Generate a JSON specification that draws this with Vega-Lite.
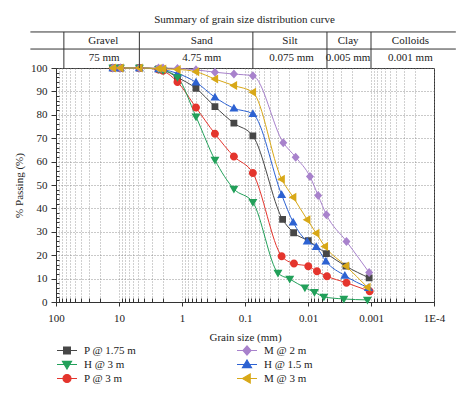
{
  "$schema": "https://vega.github.io/schema/vega-lite/v6.json",
  "width": 378,
  "height": 234,
  "autosize": {"type": "none"},
  "padding": {"left": 56, "top": 68, "right": 40, "bottom": 95},
  "resolve": {"axis": {"x": "independent", "y": "independent"}},
  "config": {
    "view": {"stroke": "#333", "strokeWidth": 1},
    "font": "Liberation Serif",
    "axis": {"domainColor": "#333", "tickColor": "#333", "labelFont": "Liberation Serif", "labelFontSize": 11, "labelColor": "#222", "titleFont": "Liberation Serif", "titleFontSize": 11, "titleFontWeight": "normal", "titleColor": "#222"}
  },
  "datasets": {
    "curves": [
      {"s": "P @ 1.75 m", "d": 12.5, "p": 100}, {"s": "P @ 1.75 m", "d": 9.5, "p": 100}, {"s": "P @ 1.75 m", "d": 4.75, "p": 100}, {"s": "P @ 1.75 m", "d": 2.36, "p": 99.6}, {"s": "P @ 1.75 m", "d": 2, "p": 99.2}, {"s": "P @ 1.75 m", "d": 1.18, "p": 96}, {"s": "P @ 1.75 m", "d": 0.6, "p": 91.3}, {"s": "P @ 1.75 m", "d": 0.3, "p": 83.5}, {"s": "P @ 1.75 m", "d": 0.15, "p": 76.4}, {"s": "P @ 1.75 m", "d": 0.075, "p": 71.0}, {"s": "P @ 1.75 m", "d": 0.0253, "p": 35.3}, {"s": "P @ 1.75 m", "d": 0.0169, "p": 29.6}, {"s": "P @ 1.75 m", "d": 0.0099, "p": 26.2}, {"s": "P @ 1.75 m", "d": 0.0051, "p": 20.7}, {"s": "P @ 1.75 m", "d": 0.0025, "p": 15.3}, {"s": "P @ 1.75 m", "d": 0.00107, "p": 10.3},
      {"s": "P @ 3 m", "d": 12.5, "p": 100}, {"s": "P @ 3 m", "d": 9.5, "p": 100}, {"s": "P @ 3 m", "d": 4.75, "p": 100}, {"s": "P @ 3 m", "d": 2.36, "p": 99.4}, {"s": "P @ 3 m", "d": 2, "p": 98.8}, {"s": "P @ 3 m", "d": 1.18, "p": 94}, {"s": "P @ 3 m", "d": 0.6, "p": 83.1}, {"s": "P @ 3 m", "d": 0.3, "p": 71.9}, {"s": "P @ 3 m", "d": 0.15, "p": 62.2}, {"s": "P @ 3 m", "d": 0.075, "p": 55.1}, {"s": "P @ 3 m", "d": 0.0262, "p": 19.6}, {"s": "P @ 3 m", "d": 0.0167, "p": 16.4}, {"s": "P @ 3 m", "d": 0.0099, "p": 15.3}, {"s": "P @ 3 m", "d": 0.0072, "p": 13.1}, {"s": "P @ 3 m", "d": 0.005, "p": 11.0}, {"s": "P @ 3 m", "d": 0.00245, "p": 8.2}, {"s": "P @ 3 m", "d": 0.00105, "p": 4.6},
      {"s": "H @ 1.5 m", "d": 12.5, "p": 100}, {"s": "H @ 1.5 m", "d": 9.5, "p": 100}, {"s": "H @ 1.5 m", "d": 4.75, "p": 100}, {"s": "H @ 1.5 m", "d": 2.36, "p": 99.6}, {"s": "H @ 1.5 m", "d": 2, "p": 99.3}, {"s": "H @ 1.5 m", "d": 1.18, "p": 97.7}, {"s": "H @ 1.5 m", "d": 0.6, "p": 93.9}, {"s": "H @ 1.5 m", "d": 0.3, "p": 87.5}, {"s": "H @ 1.5 m", "d": 0.15, "p": 82.8}, {"s": "H @ 1.5 m", "d": 0.075, "p": 80.4}, {"s": "H @ 1.5 m", "d": 0.0262, "p": 45.8}, {"s": "H @ 1.5 m", "d": 0.0172, "p": 34.1}, {"s": "H @ 1.5 m", "d": 0.0103, "p": 25.9}, {"s": "H @ 1.5 m", "d": 0.0074, "p": 23.6}, {"s": "H @ 1.5 m", "d": 0.0052, "p": 17.4}, {"s": "H @ 1.5 m", "d": 0.0026, "p": 11.3}, {"s": "H @ 1.5 m", "d": 0.0011, "p": 6.1},
      {"s": "H @ 3 m", "d": 12.5, "p": 100}, {"s": "H @ 3 m", "d": 9.5, "p": 100}, {"s": "H @ 3 m", "d": 4.75, "p": 100}, {"s": "H @ 3 m", "d": 2.36, "p": 99.5}, {"s": "H @ 3 m", "d": 2, "p": 99}, {"s": "H @ 3 m", "d": 1.18, "p": 96}, {"s": "H @ 3 m", "d": 0.6, "p": 79.2}, {"s": "H @ 3 m", "d": 0.3, "p": 60.7}, {"s": "H @ 3 m", "d": 0.15, "p": 48.3}, {"s": "H @ 3 m", "d": 0.075, "p": 42.6}, {"s": "H @ 3 m", "d": 0.03, "p": 12.4}, {"s": "H @ 3 m", "d": 0.0195, "p": 9.8}, {"s": "H @ 3 m", "d": 0.0112, "p": 6.1}, {"s": "H @ 3 m", "d": 0.0079, "p": 4.2}, {"s": "H @ 3 m", "d": 0.0056, "p": 2.2}, {"s": "H @ 3 m", "d": 0.0027, "p": 1.3}, {"s": "H @ 3 m", "d": 0.00114, "p": 0.9},
      {"s": "M @ 2 m", "d": 12.5, "p": 100}, {"s": "M @ 2 m", "d": 9.5, "p": 100}, {"s": "M @ 2 m", "d": 4.75, "p": 100}, {"s": "M @ 2 m", "d": 2.36, "p": 100}, {"s": "M @ 2 m", "d": 2, "p": 100}, {"s": "M @ 2 m", "d": 1.18, "p": 99.8}, {"s": "M @ 2 m", "d": 0.6, "p": 99.2}, {"s": "M @ 2 m", "d": 0.3, "p": 98.2}, {"s": "M @ 2 m", "d": 0.15, "p": 97.4}, {"s": "M @ 2 m", "d": 0.075, "p": 96.7}, {"s": "M @ 2 m", "d": 0.0247, "p": 68.1}, {"s": "M @ 2 m", "d": 0.0157, "p": 61.9}, {"s": "M @ 2 m", "d": 0.0093, "p": 53.6}, {"s": "M @ 2 m", "d": 0.0069, "p": 45.5}, {"s": "M @ 2 m", "d": 0.0051, "p": 37.3}, {"s": "M @ 2 m", "d": 0.00245, "p": 25.9}, {"s": "M @ 2 m", "d": 0.00107, "p": 12.6},
      {"s": "M @ 3 m", "d": 12.5, "p": 100}, {"s": "M @ 3 m", "d": 9.5, "p": 100}, {"s": "M @ 3 m", "d": 4.75, "p": 100}, {"s": "M @ 3 m", "d": 2.36, "p": 99.8}, {"s": "M @ 3 m", "d": 2, "p": 99.6}, {"s": "M @ 3 m", "d": 1.18, "p": 99.4}, {"s": "M @ 3 m", "d": 0.6, "p": 98.4}, {"s": "M @ 3 m", "d": 0.3, "p": 95.3}, {"s": "M @ 3 m", "d": 0.15, "p": 92.5}, {"s": "M @ 3 m", "d": 0.075, "p": 89.6}, {"s": "M @ 3 m", "d": 0.0262, "p": 52.5}, {"s": "M @ 3 m", "d": 0.0172, "p": 44.8}, {"s": "M @ 3 m", "d": 0.0103, "p": 35.2}, {"s": "M @ 3 m", "d": 0.0074, "p": 29.4}, {"s": "M @ 3 m", "d": 0.0054, "p": 23.7}, {"s": "M @ 3 m", "d": 0.0025, "p": 15.4}, {"s": "M @ 3 m", "d": 0.00114, "p": 6.3}
    ],
    "bounds": [{"d": 75}, {"d": 4.75}, {"d": 0.075}, {"d": 0.005}, {"d": 0.001}],
    "hlines": [{"from": 255, "to": 0.000045}],
    "classes": [
      {"row": "class", "label": "Gravel", "d": 17.8}, {"row": "class", "label": "Sand", "d": 0.4855}, {"row": "class", "label": "Silt", "d": 0.01936}, {"row": "class", "label": "Clay", "d": 0.002307}, {"row": "class", "label": "Colloids", "d": 0.0002366},
      {"row": "size", "label": "75 mm", "d": 17.2}, {"row": "size", "label": "4.75 mm", "d": 0.4855}, {"row": "size", "label": "0.075 mm", "d": 0.0182}, {"row": "size", "label": "0.005 mm", "d": 0.002307}, {"row": "size", "label": "0.001 mm", "d": 0.0002366}
    ]
  },
  "layer": [
    {
      "data": {"name": "curves"},
      "mark": {"type": "line", "interpolate": "monotone", "strokeWidth": 1},
      "encoding": {
        "x": {
          "field": "d", "type": "quantitative",
          "scale": {"type": "log", "domain": [0.0001, 100], "reverse": true, "nice": false},
          "axis": {
            "title": "Grain size (mm)",
            "values": [0.0001,0.0002,0.0003,0.0004,0.0005,0.0006,0.0007,0.0008,0.0009,0.001,0.002,0.003,0.004,0.005,0.006,0.007,0.008,0.009,0.01,0.02,0.03,0.04,0.05,0.06,0.07,0.08,0.09,0.1,0.2,0.3,0.4,0.5,0.6,0.7,0.8,0.9,1,2,3,4,5,6,7,8,9,10,20,30,40,50,60,70,80,90,100],
            "labelExpr": "datum.value < 0.00015 ? '1E-4' : (abs(log(datum.value)/LN10 - round(log(datum.value)/LN10)) < 0.001 ? '' + datum.value : '')",
            "labelOverlap": false,
            "labelFlush": false,
            "labelPadding": 6,
            "titlePadding": 8,
            "tickSize": {"condition": {"test": "abs(log(datum.value)/LN10 - round(log(datum.value)/LN10)) < 0.001", "value": 4}, "value": -4},
            "grid": true,
            "gridDash": [1, 2],
            "gridColor": "#888",
            "gridWidth": 0.8
          }
        },
        "y": {
          "field": "p", "type": "quantitative",
          "scale": {"domain": [0, 100], "nice": false},
          "axis": {
            "title": "% Passing (%)",
            "values": [0, 10, 20, 30, 40, 50, 60, 70, 80, 90, 100],
            "labelOverlap": false,
            "labelFlush": false,
            "labelPadding": 4,
            "titlePadding": 6,
            "tickSize": 5,
            "grid": true,
            "gridDash": [1, 2],
            "gridColor": "#777",
            "gridWidth": 0.8
          }
        },
        "stroke": {
          "field": "s", "type": "nominal",
          "scale": {"domain": ["P @ 1.75 m", "H @ 3 m", "P @ 3 m", "M @ 2 m", "H @ 1.5 m", "M @ 3 m"], "range": ["#474747", "#22a05a", "#e4352d", "#a882cc", "#2d62d2", "#d8a818"]},
          "legend": {
            "orient": "none", "legendX": 0, "legendY": 277,
            "columns": 2, "columnPadding": 99, "rowPadding": 2, "clipHeight": 11,
            "symbolSize": 400, "symbolStrokeWidth": 1.2, "symbolOpacity": 1, "labelOffset": 6,
            "labelFont": "Liberation Serif", "labelFontSize": 11, "labelColor": "#222",
            "title": null
          }
        }
      }
    },
    {
      "data": {"name": "curves"},
      "mark": {"type": "point", "filled": true, "size": 400, "opacity": 1, "strokeWidth": 0},
      "encoding": {
        "x": {"field": "d", "type": "quantitative", "axis": null},
        "y": {
          "field": "p", "type": "quantitative",
          "axis": {
            "orient": "left",
            "title": null,
            "values": [2,4,6,8,12,14,16,18,22,24,26,28,32,34,36,38,42,44,46,48,52,54,56,58,62,64,66,68,72,74,76,78,82,84,86,88,92,94,96,98],
            "labels": false,
            "domain": false,
            "grid": false,
            "tickSize": -3
          }
        },
        "shape": {
          "field": "s", "type": "nominal",
          "scale": {"domain": ["P @ 1.75 m", "H @ 3 m", "P @ 3 m", "M @ 2 m", "H @ 1.5 m", "M @ 3 m"], "range": [
            "M-1,0H1M-0.34,-0.34H0.34V0.34H-0.34Z",
            "M-1,0H1M0,0.45L0.45,-0.32H-0.45Z",
            "M-1,0H1M-0.4,0A0.4,0.4 0 1,0 0.4,0A0.4,0.4 0 1,0 -0.4,0Z",
            "M-1,0H1M0,-0.45L0.4,0L0,0.45L-0.4,0Z",
            "M-1,0H1M0,-0.45L0.45,0.32H-0.45Z",
            "M-1,0H1M-0.45,0L0.32,-0.45V0.45Z"
          ]},
          "legend": {
            "orient": "none", "legendX": 0, "legendY": 277,
            "columns": 2, "columnPadding": 99, "rowPadding": 2, "clipHeight": 11,
            "symbolSize": 400, "symbolStrokeWidth": 1.2, "symbolOpacity": 1, "labelOffset": 6,
            "labelFont": "Liberation Serif", "labelFontSize": 11, "labelColor": "#222",
            "title": null
          }
        },
        "color": {
          "field": "s", "type": "nominal",
          "scale": {"domain": ["P @ 1.75 m", "H @ 3 m", "P @ 3 m", "M @ 2 m", "H @ 1.5 m", "M @ 3 m"], "range": ["#474747", "#22a05a", "#e4352d", "#a882cc", "#2d62d2", "#d8a818"]},
          "legend": {
            "orient": "none", "legendX": 0, "legendY": 277,
            "columns": 2, "columnPadding": 99, "rowPadding": 2, "clipHeight": 11,
            "symbolSize": 400, "symbolStrokeWidth": 1.2, "symbolOpacity": 1, "labelOffset": 6,
            "labelFont": "Liberation Serif", "labelFontSize": 11, "labelColor": "#222",
            "title": null
          }
        },
        "stroke": {"field": "s", "type": "nominal"}
      }
    },
    {
      "data": {"name": "hlines"},
      "mark": {"type": "rule", "color": "#333", "strokeWidth": 1},
      "encoding": {
        "x": {"field": "from", "type": "quantitative", "axis": null},
        "x2": {"field": "to"},
        "y": {"datum": 115.4, "type": "quantitative", "axis": null}
      }
    },
    {
      "data": {"name": "hlines"},
      "mark": {"type": "rule", "color": "#333", "strokeWidth": 1},
      "encoding": {
        "x": {"field": "from", "type": "quantitative", "axis": null},
        "x2": {"field": "to"},
        "y": {"datum": 108.1, "type": "quantitative", "axis": null}
      }
    },
    {
      "data": {"name": "bounds"},
      "mark": {"type": "rule", "color": "#333", "strokeWidth": 1},
      "encoding": {
        "x": {"field": "d", "type": "quantitative", "axis": null},
        "y": {"datum": 100, "type": "quantitative", "axis": null},
        "y2": {"datum": 115.4}
      }
    },
    {
      "data": {"name": "classes"},
      "transform": [{"filter": "datum.row == 'class'"}],
      "mark": {"type": "text", "font": "Liberation Serif", "fontSize": 11, "color": "#222", "baseline": "middle"},
      "encoding": {
        "x": {"field": "d", "type": "quantitative", "axis": null},
        "y": {"datum": 111.5, "type": "quantitative", "axis": null},
        "text": {"field": "label"}
      }
    },
    {
      "data": {"name": "classes"},
      "transform": [{"filter": "datum.row == 'size'"}],
      "mark": {"type": "text", "font": "Liberation Serif", "fontSize": 11, "color": "#222", "baseline": "middle"},
      "encoding": {
        "x": {"field": "d", "type": "quantitative", "axis": null},
        "y": {"datum": 104.3, "type": "quantitative", "axis": null},
        "text": {"field": "label"}
      }
    },
    {
      "data": {"values": [{"t": "Summary of grain size distribution curve"}]},
      "mark": {"type": "text", "font": "Liberation Serif", "fontSize": 11, "color": "#222", "baseline": "middle"},
      "encoding": {
        "x": {"datum": 0.1018, "type": "quantitative", "axis": null},
        "y": {"datum": 120.5, "type": "quantitative", "axis": null},
        "text": {"field": "t"}
      }
    }
  ]
}
